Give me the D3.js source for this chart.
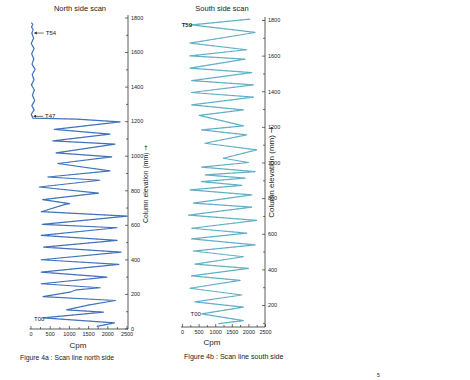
<!DOCTYPE html>
<html><head><meta charset="utf-8">
<script src="https://cdn.jsdelivr.net/npm/d3@7"></script>
<style>body{margin:0;background:#fff}text{font-family:"Liberation Sans",Arial,sans-serif;fill:#222}</style>
</head><body><svg id="c" width="470" height="380"></svg>
<script>
// ---- North side scan (Figure 4a) ----
const northCpm  = [1730,2190,325,1900,940,1500,2210,325,1026,1200,1815,280,1990,280,2300,280,2360,340,2255,280,2255,305,2520,280,900,1018,316,1770,228,1807,450,2070,710,2115,667,2200,580,2070,623,2333,1200,60,20,95,35,110,50,100,25,90,45,120,40,85,30,95,20,80,35,70,25,60,20];
const northElev = [12,33,62,95,108,135,162,185,210,224,236,259,297,326,371,398,442,471,510,539,583,603,650,676,718,723,746,784,819,858,877,912,955,993,1016,1067,1086,1125,1153,1196,1212,1218,1240,1265,1290,1320,1350,1380,1410,1440,1470,1500,1530,1560,1590,1620,1650,1680,1710,1730,1745,1760,1770];
// ---- South side scan (Figure 4b) ----
const southCpm  = [1100,1850,590,1850,390,1800,240,1750,290,2000,390,1850,340,2200,290,1950,290,2250,200,2100,340,2100,240,1800,590,1900,700,2200,590,2000,1245,2250,690,1950,590,1850,520,1850,290,2150,290,2150,290,2100,240,1900,240,1950,240,2200,290,2050];
const southElev = [95,112,150,188,218,256,294,338,363,406,429,471,503,537,571,603,631,675,705,750,772,818,846,872,893,912,930,949,974,1000,1024,1071,1108,1155,1183,1206,1265,1295,1324,1367,1393,1436,1460,1505,1530,1580,1599,1633,1670,1730,1773,1805];
const elevTicks = [0,200,400,600,800,1000,1200,1400,1600,1800];
const southElevTicks = [200,400,600,800,1000,1200,1400,1600,1800];
const cpmTicks = [0,500,1000,1500,2000,2500];

const svg = d3.select('#c');
const INK = '#1a1a1a';

function panel(o){
  const g = svg.append('g');
  const x = d3.scaleLinear().domain([0,2500]).range(o.xr);
  const y = d3.scaleLinear().domain(o.yd).range(o.yr);
  const axC = '#333';
  g.append('line').attr('x1',o.axisX).attr('x2',o.axisX).attr('y1',o.yTop).attr('y2',o.axisY).attr('stroke',axC).attr('stroke-width',0.8);
  g.append('line').attr('x1',o.xr[0]-1).attr('x2',o.axisX).attr('y1',o.axisY).attr('y2',o.axisY).attr('stroke',axC).attr('stroke-width',0.8);
  const ya = d3.axisRight(y).tickValues(o.yTicks).tickSize(-3).tickPadding(3).tickFormat(d3.format('d'));
  const yg = g.append('g').attr('transform',`translate(${o.axisX},0)`).call(ya);
  const minor = [];
  for(let v=o.yTicks[0]-100; v<=o.yTicks[o.yTicks.length-1]; v+=200) if(y(v)<=o.axisY && v>=0) minor.push(v);
  const ym = g.append('g').attr('transform',`translate(${o.axisX},0)`).call(d3.axisRight(y).tickValues(minor).tickSize(-2).tickFormat(''));
  const xa = d3.axisBottom(x).tickValues(cpmTicks).tickSize(-3).tickPadding(3).tickFormat(d3.format('d'));
  const xg = g.append('g').attr('transform',`translate(0,${o.axisY})`).call(xa);
  const xm = g.append('g').attr('transform',`translate(0,${o.axisY})`).call(d3.axisBottom(x).tickValues([250,750,1250,1750,2250]).tickSize(-2).tickFormat(''));
  [yg,ym,xg,xm].forEach(a=>{a.select('.domain').remove();a.selectAll('line').attr('stroke',axC).attr('stroke-width',0.7);a.selectAll('text').attr('font-size',5.5).attr('fill',INK).attr('font-family','Liberation Sans, Arial');});
  const pts = o.cpm.map((c,i)=>[c,o.elev[i]]);
  const line = d3.line().x(d=>x(d[0])).y(d=>y(d[1]));
  g.append('path').attr('d',line(pts)).attr('fill','none').attr('stroke',o.color).attr('stroke-width',1.2).attr('stroke-linejoin','round');
  g.append('path').attr('d',line(pts)).attr('fill','none').attr('stroke',o.color2).attr('stroke-width',0.4).attr('stroke-dasharray','1,6').attr('opacity',0.8);
  g.append('text').attr('x',o.titleX).attr('y',11).attr('text-anchor','middle').attr('font-size',7.5).attr('fill',INK).text(o.title);
  g.append('text').attr('x',o.cpmX).attr('y',o.cpmY).attr('text-anchor','middle').attr('font-size',8).attr('fill',INK).text('Cpm');
  const t = g.append('text').attr('transform',`translate(${o.labX},${o.labY}) rotate(-90)`).attr('text-anchor','middle').attr('font-size',o.labFs).attr('fill',INK);
  t.append('tspan').text('Column elevation (mm) ');
  t.append('tspan').attr('font-family','DejaVu Sans').text('\u2192');
  g.append('text').attr('x',o.capX).attr('y',o.capY).attr('font-size',o.capFs).attr('fill',INK).text(o.caption);
  return {x,y,g};
}

const N = panel({xr:[30.5,126.5], yd:[0,1800], yr:[328.5,17.5], axisX:128, axisY:329, yTop:15, yTicks:elevTicks,
  cpm:northCpm, elev:northElev, color:'#4474bd', color2:'#1d3f86', title:'North side scan', titleX:80,
  cpmX:78, cpmY:348, labX:148, labY:184, labFs:6.8, capX:20, capY:360, capFs:6.8, caption:'Figure 4a : Scan line north side'});
const S = panel({xr:[182,265], yd:[200,1800], yr:[305,20], axisX:265, axisY:327, yTop:17, yTicks:southElevTicks,
  cpm:southCpm, elev:southElev, color:'#66b2c8', color2:'#236f8c', title:'South side scan', titleX:222,
  cpmX:212, cpmY:345, labX:274, labY:172, labFs:8, capX:184, capY:359, capFs:7.1, caption:'Figure 4b : Scan line south side'});

function note(P, txt, c, e, dx, arrow){
  const px = P.x(c), py = P.y(e);
  if(arrow){
    P.g.append('line').attr('x1',px+2).attr('y1',py).attr('x2',px+dx-2).attr('y2',py).attr('stroke','#333').attr('stroke-width',0.7);
    P.g.append('path').attr('d',`M${px+1},${py} l3,-1.5 l0,3 z`).attr('fill','#333');
  }
  P.g.append('text').attr('x',px+dx).attr('y',py+2).attr('font-size',6).attr('fill',INK).text(txt);
}
note(N,'T54',60,1710,13,true);
note(N,'T47',40,1228,13,true);
note(N,'T00',325,55,-9,false);
S.g.append('text').attr('x',S.x(290)-10).attr('y',S.y(1773)+2).attr('font-size',6).attr('font-weight','bold').attr('fill',INK).text('T59');
S.g.append('text').attr('x',S.x(590)-11).attr('y',S.y(150)+2).attr('font-size',6).attr('fill',INK).text('T00');
svg.append('text').attr('x',377).attr('y',377).attr('font-size',5).attr('fill',INK).text('5');
</script></body></html>
